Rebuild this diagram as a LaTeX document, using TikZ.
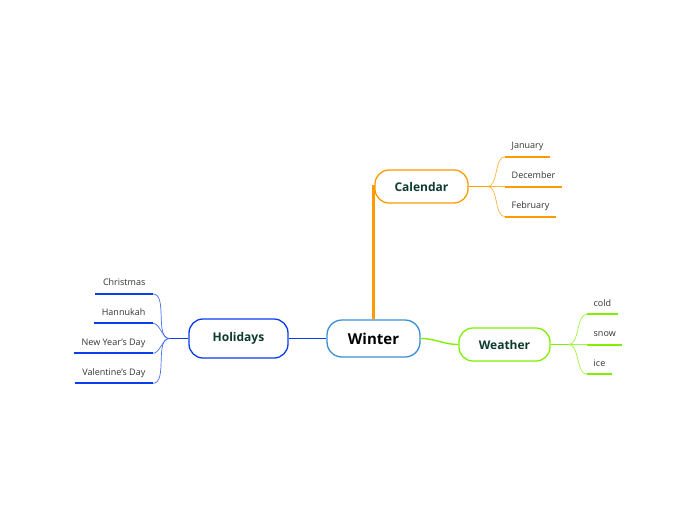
\documentclass[tikz,border=0pt]{standalone}
\usepackage{fontspec}
\setmainfont{Open Sans}
\usetikzlibrary{positioning}
\definecolor{calorange}{HTML}{FF9A00}
\definecolor{holblue}{HTML}{0A3CF0}
\definecolor{weagreen}{HTML}{80F000}
\definecolor{winblue}{HTML}{3A8FD6}
\definecolor{topictext}{HTML}{0D3B2E}

\begin{document}
\begin{tikzpicture}[x=1pt,y=-1pt,on grid,
  root/.style={draw=winblue,line width=1.3pt,rounded corners=15pt,minimum width=93pt,
    minimum height=37pt,inner sep=0pt,fill=white,font=\fontsize{15}{18}\selectfont\bfseries},
  topic/.style={draw=#1,line width=1.3pt,rounded corners=14pt,minimum height=33pt,
    inner sep=0pt,fill=white,text=topictext,font=\fontsize{12}{14}\selectfont\bfseries},
  leaf/.style={inner xsep=6.5pt,inner ysep=6pt,text=black!80,text height=6.5pt,
    text depth=2pt,font=\fontsize{9}{11}\selectfont},
  uline/.style={draw=#1,line width=2pt},
  stub/.style={draw=#1,line width=1.4pt},
  twig/.style={draw=#1!75,line width=0.7pt,looseness=0.8}]
  \useasboundingbox (0,0) rectangle (697,520);

  \node[root] (win) at (373.5,338.5) {Winter};
  \node[topic=calorange,minimum width=93pt] (cal) [above right=152pt and 48pt of win] {Calendar};
  \node[topic=holblue,minimum width=99pt,minimum height=39pt] (hol) [left=135pt of win] {Holidays};
  \node[topic=weagreen,minimum width=91pt] (wea) [below right=6pt and 131pt of win] {Weather};

  % calendar leaves
  \node[leaf] (cal_1) [above right=29.8pt and 83.5pt of cal,anchor=south west] {January};
  \node[leaf] (cal_2) [right=83.5pt of cal,anchor=south west] {December};
  \node[leaf] (cal_3) [below right=30.2pt and 83.5pt of cal,anchor=south west] {February};
  \coordinate[right=19pt of cal.east] (cal_j);

  % holiday leaves
  \node[leaf,inner xsep=7.5pt] (hol_1) [above left=44.5pt and 85.5pt of hol,anchor=south east] {Christmas};
  \node[leaf,inner xsep=7.5pt] (hol_2) [above left=15.2pt and 85.5pt of hol,anchor=south east] {Hannukah};
  \node[leaf,inner xsep=7.5pt] (hol_3) [below left=14.8pt and 85.5pt of hol,anchor=south east] {New Year's Day};
  \node[leaf,inner xsep=7.5pt] (hol_4) [below left=44.8pt and 85.5pt of hol,anchor=south east] {Valentine's Day};
  \coordinate[left=19pt of hol.west] (hol_j);

  % weather leaves
  \node[leaf] (wea_1) [above right=30.2pt and 82.5pt of wea,anchor=south west] {cold};
  \node[leaf] (wea_2) [right=82.5pt of wea,anchor=south west] {snow};
  \node[leaf] (wea_3) [below right=29.8pt and 82.5pt of wea,anchor=south west] {ice};
  \coordinate[right=18pt of wea.east] (wea_j);

  \draw[calorange,line width=2.4pt] (win.north) |- (cal.west);
  \draw[holblue,line width=1.2pt] (win.west) -- (hol.east);
  \draw[weagreen,line width=1.4pt] (win.east) to[out=0,in=180] (wea.west);

  \path[stub=calorange] (cal.east) edge (cal_j);
  \path[twig=calorange]
  (cal_j) edge [out=0,in=180] (cal_1.south west)
          edge [out=0,in=180] (cal_2.south west)
          edge [out=0,in=180] (cal_3.south west);

  \path[stub=holblue] (hol.west) edge (hol_j);
  \path[twig=holblue]
  (hol_j) edge [out=180,in=0] (hol_1.south east)
          edge [out=180,in=0] (hol_2.south east)
          edge [out=180,in=0] (hol_3.south east)
          edge [out=180,in=0] (hol_4.south east);

  \path[stub=weagreen] (wea.east) edge (wea_j);
  \path[twig=weagreen]
  (wea_j) edge [out=0,in=180] (wea_1.south west)
          edge [out=0,in=180] (wea_2.south west)
          edge [out=0,in=180] (wea_3.south west);

  \foreach \n in {cal_1,cal_2,cal_3}
    \draw[uline=calorange] (\n.south west) -- (\n.south east);
  \foreach \n in {hol_1,hol_2,hol_3,hol_4}
    \draw[uline=holblue] (\n.south west) -- (\n.south east);
  \foreach \n in {wea_1,wea_2,wea_3}
    \draw[uline=weagreen] (\n.south west) -- (\n.south east);
\end{tikzpicture}
\end{document}
